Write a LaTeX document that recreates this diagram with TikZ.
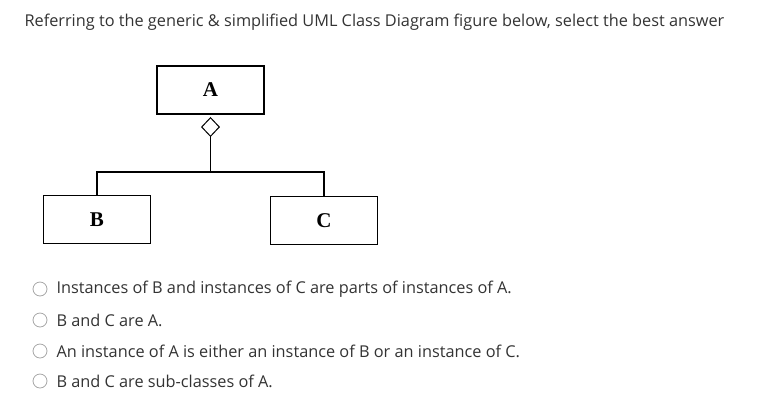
\documentclass[tikz,border=0pt]{standalone}
\usepackage{fontspec}
\setmainfont{Open Sans}
\newfontfamily\serifA{Liberation Serif}
\usetikzlibrary{shapes.geometric}
\begin{document}
\begin{tikzpicture}[x=1pt,y=-1pt,
  cls/.style={draw,line width=1.4pt,minimum width=107pt,minimum height=48pt,inner sep=0pt,font=\serifA\bfseries\fontsize{21}{23}\selectfont},
  opt/.style={circle,draw=gray!70,line width=0.8pt,minimum size=14pt,inner sep=0pt},
  lbl/.style={anchor=west,font=\fontsize{16.3}{19}\selectfont,text=black!80},
  ln/.style={line width=1.4pt}]
\useasboundingbox (0,0) rectangle (773,400);
\node[anchor=west,font=\fontsize{16.3}{19}\selectfont,text=black!80] (title) at (21,22) {Referring to the generic \& simplified UML Class Diagram figure below, select the best answer};
\node[cls] (A) at (210.5,90) {A};
\node[cls] (B) at (97,219.5) {B};
\node[cls] (C) at (324,220.5) {C};
\node[diamond,draw,line width=1pt,minimum width=18pt,minimum height=19pt,inner sep=0pt,anchor=north] (d) at (210.5,117) {};
\coordinate (j) at (210.5,172);
\draw[ln] (d.south) -- (j);
\draw[ln] (B.north) |- (j) -| (C.north);
\node[opt] (o1) at (40,289) {};
\node[opt] (o2) at (40,320) {};
\node[opt] (o3) at (40,351) {};
\node[opt] (o4) at (40,381) {};
\node[lbl] (t1) at (53,289) {Instances of B and instances of C are parts of instances of A.};
\node[lbl] (t2) at (53,320) {B and C are A.};
\node[lbl] (t3) at (53,351) {An instance of A is either an instance of B or an instance of C.};
\node[lbl] (t4) at (53,381) {B and C are sub-classes of A.};
\end{tikzpicture}
\end{document}
